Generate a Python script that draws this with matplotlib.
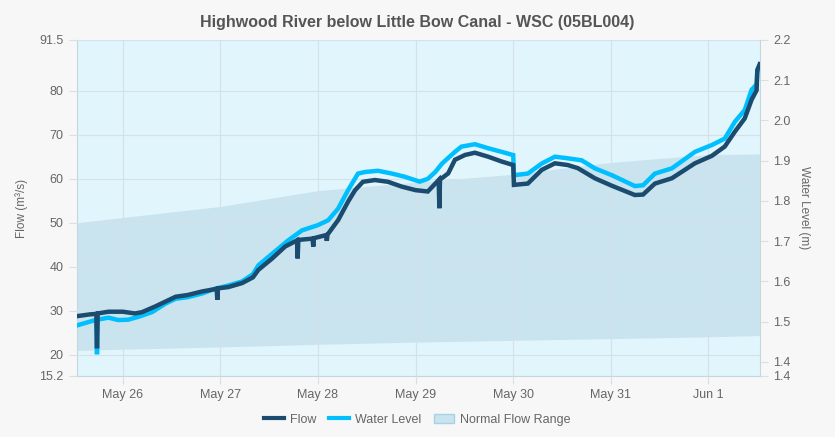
import pandas as pd
import matplotlib
matplotlib.use("Agg")
import matplotlib.pyplot as plt
from matplotlib.lines import Line2D
from matplotlib.patches import Patch

plt.rcParams["font.family"] = ["Liberation Sans", "DejaVu Sans"]

TITLE = "Highwood River below Little Bow Canal - WSC (05BL004)"

# Flow (m³/s)
flow_times = [
    "2024-05-25 12:50", "2024-05-25 16:00", "2024-05-25 17:30", "2024-05-25 17:40",
    "2024-05-25 17:50", "2024-05-25 20:30", "2024-05-26 00:00", "2024-05-26 03:00",
    "2024-05-26 04:45", "2024-05-26 08:00", "2024-05-26 10:30", "2024-05-26 13:00",
    "2024-05-26 16:00", "2024-05-26 19:30", "2024-05-26 23:05", "2024-05-26 23:15",
    "2024-05-26 23:25", "2024-05-27 02:00", "2024-05-27 05:20", "2024-05-27 08:00",
    "2024-05-27 09:20", "2024-05-27 12:45", "2024-05-27 15:55", "2024-05-27 18:50",
    "2024-05-27 19:00", "2024-05-27 19:10", "2024-05-27 22:40", "2024-05-27 22:50",
    "2024-05-27 23:00", "2024-05-28 02:00", "2024-05-28 02:10", "2024-05-28 02:20",
    "2024-05-28 04:57", "2024-05-28 07:24", "2024-05-28 09:07", "2024-05-28 11:03",
    "2024-05-28 14:00", "2024-05-28 17:13", "2024-05-28 20:36", "2024-05-29 00:00",
    "2024-05-29 03:00", "2024-05-29 05:40", "2024-05-29 05:50", "2024-05-29 06:00",
    "2024-05-29 08:00", "2024-05-29 09:40", "2024-05-29 12:10", "2024-05-29 14:35",
    "2024-05-29 17:50", "2024-05-29 21:10", "2024-05-30 00:00", "2024-05-30 00:10",
    "2024-05-30 03:35", "2024-05-30 07:00", "2024-05-30 10:15", "2024-05-30 13:25",
    "2024-05-30 15:53", "2024-05-30 20:04", "2024-05-31 00:15", "2024-05-31 05:54",
    "2024-05-31 07:55", "2024-05-31 10:50", "2024-05-31 15:00", "2024-05-31 20:40",
    "2024-06-01 00:50", "2024-06-01 04:00", "2024-06-01 06:30", "2024-06-01 08:55",
    "2024-06-01 10:35", "2024-06-01 11:50", "2024-06-01 12:00", "2024-06-01 12:35",
]
flow = [
    28.8, 29.2, 29.3, 21.5,
    29.4, 29.8, 29.8, 29.4,
    29.7, 31.0, 32.1, 33.2,
    33.6, 34.4, 35.0, 32.5,
    35.1, 35.4, 36.3, 37.6,
    39.3, 41.9, 44.6, 46.0,
    41.9, 46.1, 46.4, 44.6,
    46.5, 47.2, 45.9, 47.3,
    50.6, 54.8, 57.4, 59.3,
    59.7, 59.3, 58.2, 57.4,
    57.1, 59.7, 53.3, 59.8,
    61.2, 64.3, 65.4, 65.9,
    65.0, 63.9, 63.1, 58.6,
    58.9, 62.0, 63.5, 63.1,
    62.4, 60.1, 58.4, 56.3,
    56.4, 58.9, 60.1, 63.5,
    65.2, 67.3, 70.7, 73.7,
    77.9, 80.1, 84.7, 86.0,
]

# Water level (m)
level_times = [
    "2024-05-25 12:50", "2024-05-25 17:15", "2024-05-25 17:30", "2024-05-25 17:40",
    "2024-05-25 17:50", "2024-05-25 20:30", "2024-05-25 22:55", "2024-05-26 01:20",
    "2024-05-26 03:50", "2024-05-26 07:15", "2024-05-26 10:30", "2024-05-26 13:00",
    "2024-05-26 16:00", "2024-05-26 19:30", "2024-05-26 22:45", "2024-05-27 02:00",
    "2024-05-27 05:20", "2024-05-27 08:00", "2024-05-27 09:20", "2024-05-27 12:45",
    "2024-05-27 16:40", "2024-05-27 20:05", "2024-05-28 00:00", "2024-05-28 02:30",
    "2024-05-28 04:57", "2024-05-28 07:24", "2024-05-28 09:50", "2024-05-28 11:35",
    "2024-05-28 14:45", "2024-05-28 18:12", "2024-05-28 21:22", "2024-05-29 01:00",
    "2024-05-29 03:00", "2024-05-29 04:50", "2024-05-29 06:30", "2024-05-29 09:40",
    "2024-05-29 11:15", "2024-05-29 14:35", "2024-05-29 17:50", "2024-05-29 21:10",
    "2024-05-30 00:00", "2024-05-30 00:10", "2024-05-30 03:35", "2024-05-30 07:00",
    "2024-05-30 10:15", "2024-05-30 13:25", "2024-05-30 16:50", "2024-05-30 20:04",
    "2024-05-31 00:15", "2024-05-31 05:54", "2024-05-31 07:55", "2024-05-31 10:50",
    "2024-05-31 15:00", "2024-05-31 20:40", "2024-06-01 00:50", "2024-06-01 04:00",
    "2024-06-01 06:30", "2024-06-01 08:55", "2024-06-01 10:35", "2024-06-01 11:50",
    "2024-06-01 12:00", "2024-06-01 12:35",
]
level = [
    1.491, 1.504, 1.505, 1.419,
    1.505, 1.510, 1.504, 1.505,
    1.512, 1.524, 1.545, 1.557,
    1.561, 1.570, 1.582, 1.590,
    1.600, 1.618, 1.640, 1.669,
    1.702, 1.727, 1.740, 1.752,
    1.781, 1.827, 1.868, 1.872,
    1.875, 1.868, 1.860, 1.848,
    1.855, 1.872, 1.893, 1.922,
    1.935, 1.941, 1.931, 1.922,
    1.914, 1.864, 1.868, 1.893,
    1.910, 1.906, 1.901, 1.881,
    1.864, 1.837, 1.839, 1.868,
    1.881, 1.922, 1.939, 1.955,
    1.997, 2.026, 2.076, 2.090,
    2.120, 2.135,
]

# Normal flow range (m³/s)
range_times = [
    "2024-05-25 12:45", "2024-05-26 00:00", "2024-05-27 00:00", "2024-05-28 00:00",
    "2024-05-29 00:00", "2024-05-30 00:00", "2024-05-31 00:00", "2024-06-01 00:00",
    "2024-06-01 12:40",
]
range_low = [21.0, 21.3, 21.8, 22.4, 22.9, 23.3, 23.7, 24.1, 24.4]
range_high = [50.0, 51.2, 53.7, 57.3, 59.2, 61.0, 63.7, 65.5, 65.6]

day_ticks = ["2024-05-26", "2024-05-27", "2024-05-28", "2024-05-29",
             "2024-05-30", "2024-05-31", "2024-06-01"]
day_labels = ["May 26", "May 27", "May 28", "May 29", "May 30", "May 31", "Jun 1"]

flow_ticks = [15.2, 20, 30, 40, 50, 60, 70, 80, 91.5]
flow_labels = ["15.2", "20", "30", "40", "50", "60", "70", "80", "91.5"]
level_ticks = [1.365, 1.4, 1.5, 1.6, 1.7, 1.8, 1.9, 2.0, 2.1, 2.2]
level_labels = ["1.4", "1.4", "1.5", "1.6", "1.7", "1.8", "1.9", "2.0", "2.1", "2.2"]

FLOW_COLOR = "#1b4b6e"
LEVEL_COLOR = "#00bfff"
BAND_COLOR = "#c9e4ee"
PLOT_BG = "#e1f5fd"
FIG_BG = "#f7f7f7"
GRID = "#d3e2ea"
TEXT = "#666666"

ft = pd.to_datetime(flow_times)
lt = pd.to_datetime(level_times)
rt = pd.to_datetime(range_times)

fig = plt.figure(figsize=(8.35, 4.37), dpi=100, facecolor=FIG_BG)
pos = [77 / 835, 61 / 437, 683 / 835, 336 / 437]

ax = fig.add_axes(pos)
ax.set_facecolor(PLOT_BG)
ax.fill_between(rt, range_low, range_high, color=BAND_COLOR, lw=0, zorder=1)
ax.set_ylim(15.2, 91.5)
ax.set_xlim(pd.Timestamp("2024-05-25 12:45"), pd.Timestamp("2024-06-01 12:40"))
ax.set_yticks(flow_ticks)
ax.set_yticklabels(flow_labels)
ax.set_xticks(pd.to_datetime(day_ticks))
ax.set_xticklabels(day_labels)
ax.grid(True, color=GRID, lw=0.8, zorder=2)
ax.set_axisbelow(False)
ax.set_ylabel("Flow (m³/s)", color=TEXT, fontsize=8.5, labelpad=8)

# water level on right axis
ax2 = ax.twinx()
ax2.plot(lt, level, color=LEVEL_COLOR, lw=3.2, solid_joinstyle="miter", zorder=3)
ax2.set_ylim(1.365, 2.2)
ax2.set_yticks(level_ticks)
ax2.set_yticklabels(level_labels)
ax2.set_ylabel("Water Level (m)", color=TEXT, fontsize=8.5, rotation=270, labelpad=14)

# flow on top of everything
ax3 = fig.add_axes(pos, sharex=ax, sharey=ax)
ax3.patch.set_visible(False)
ax3.plot(ft, flow, color=FLOW_COLOR, lw=3.2, solid_joinstyle="miter", zorder=4)
ax3.axis("off")

for a in (ax, ax2):
    for side in ("top", "left", "right", "bottom"):
        a.spines[side].set_visible(False)
    a.tick_params(colors=GRID, labelcolor=TEXT, labelsize=9, length=6, width=0.8)
ax.spines["left"].set_visible(True)
ax.spines["bottom"].set_visible(True)
ax2.spines["right"].set_visible(True)
for s in (ax.spines["left"], ax.spines["bottom"], ax2.spines["right"]):
    s.set_color("#c6d6de")
    s.set_linewidth(0.8)

fig.suptitle(TITLE, x=0.5, y=0.965, fontsize=11.5, fontweight="bold", color="#555555")

handles = [
    Line2D([], [], color=FLOW_COLOR, lw=3),
    Line2D([], [], color=LEVEL_COLOR, lw=3),
    Patch(facecolor=BAND_COLOR, edgecolor="#a9d1e2", lw=1),
]
fig.legend(handles, ["Flow", "Water Level", "Normal Flow Range"], loc="center",
           bbox_to_anchor=(0.5, 0.04), ncol=3, frameon=False, fontsize=9,
           labelcolor=TEXT, handlelength=1.6, handletextpad=0.5, columnspacing=1.0)

fig.savefig("out.png", dpi=100, facecolor=FIG_BG)
